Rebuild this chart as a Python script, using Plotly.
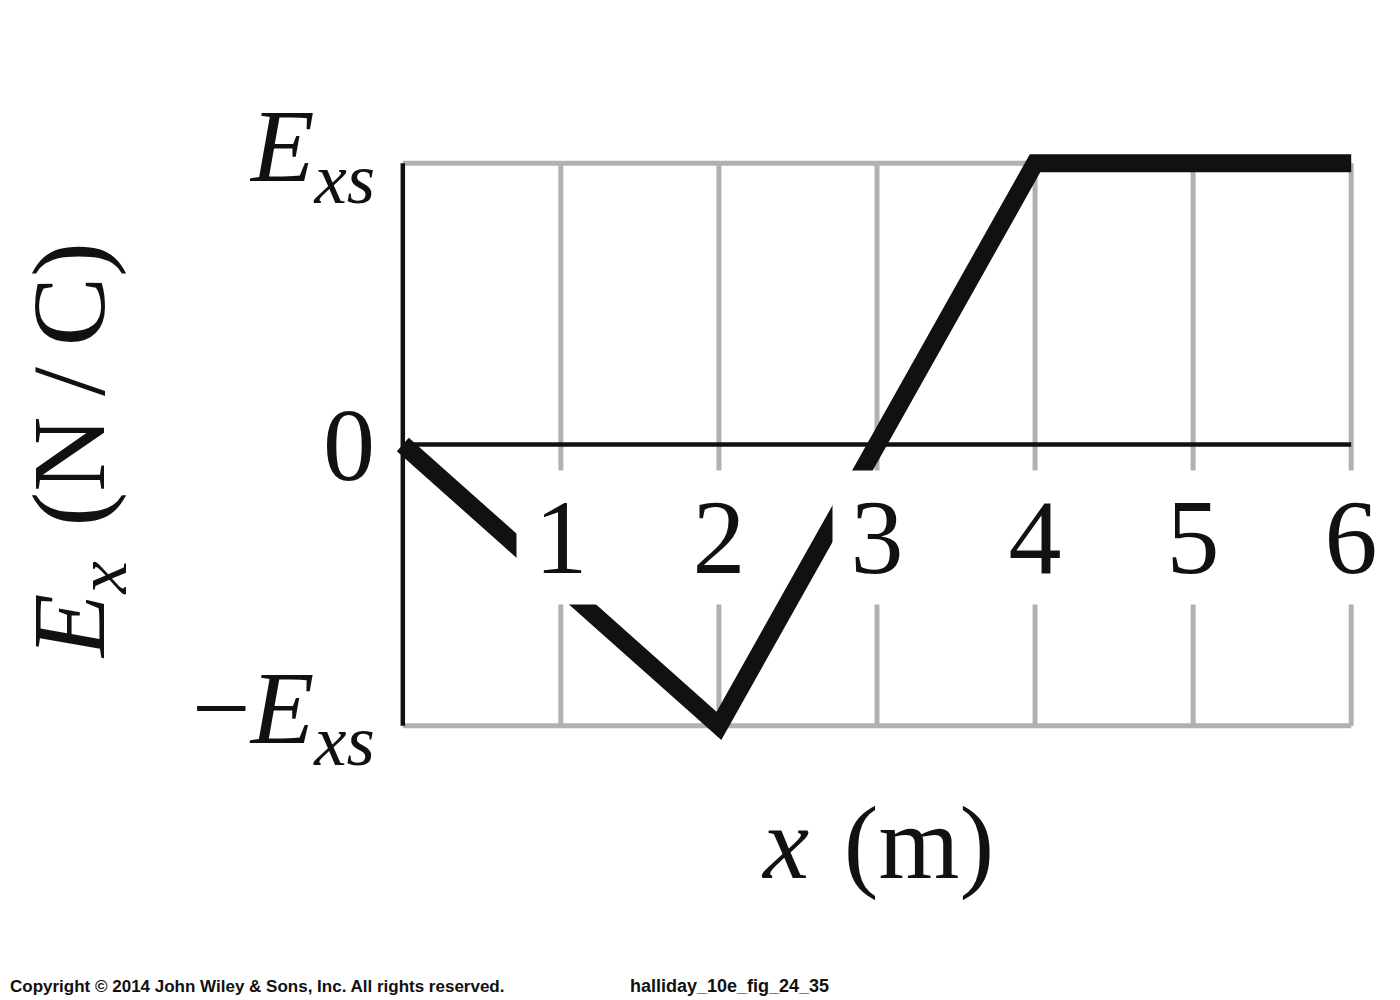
import plotly.graph_objects as go

# ---- data ----
x_pts = [0, 2, 4, 6]            # x (m)
ex_pts = [0, -1, 1, 1]          # Ex in units of E_xs
x_ticks = [1, 2, 3, 4, 5, 6]
x_tick_text = ["1", "2", "3", "4", "5", "6"]
y_ticks = [-1, 0, 1]
y_tick_text = ["−<i>E</i><sub><i>xs</i></sub>", "0", "<i>E</i><sub><i>xs</i></sub>"]

SERIF = "Liberation Serif, Times New Roman, serif"
SANS = "Liberation Sans Narrow, Liberation Sans, Arial, sans-serif"
GRID = "#b1b1b5"
INK = "#111111"

fig = go.Figure()

fig.add_trace(go.Scatter(
    x=x_pts, y=ex_pts, mode="lines",
    line=dict(color=INK, width=18),
    hoverinfo="skip", showlegend=False,
))

shapes = []
xmin, xmax = 0, x_ticks[-1]
ymin, ymax = y_ticks[0], y_ticks[-1]
# vertical grid lines
for v in x_ticks:
    shapes.append(dict(type="line", xref="x", yref="y", x0=v, x1=v, y0=ymin, y1=ymax,
                       line=dict(color=GRID, width=5), layer="below"))
# top / bottom grid lines
for v in (ymin, ymax):
    shapes.append(dict(type="line", xref="x", yref="y", x0=xmin, x1=xmax, y0=v, y1=v,
                       line=dict(color=GRID, width=5), layer="below"))
# axis lines
shapes.append(dict(type="line", xref="x", yref="y", x0=xmin, x1=xmin, y0=ymin, y1=ymax,
                   line=dict(color=INK, width=4.5), layer="below"))
shapes.append(dict(type="line", xref="x", yref="y", x0=xmin, x1=xmax, y0=0, y1=0,
                   line=dict(color=INK, width=4.5), layer="below"))

annotations = []
# x tick labels with white masks
for v, t in zip(x_ticks, x_tick_text):
    annotations.append(dict(
        x=v, y=0, xref="x", yref="y", text=t, showarrow=False,
        xanchor="center", yanchor="top", yshift=-25,
        width=88, height=133, bgcolor="white", borderpad=0,
        font=dict(family=SERIF, size=106, color=INK),
    ))
# y tick labels
for v, t in zip(y_ticks, y_tick_text):
    annotations.append(dict(
        x=0, y=v, xref="x", yref="y", text=t, showarrow=False,
        xanchor="right", yanchor="middle", xshift=-26,
        yshift=(10 if "<sub>" in t else 0),
        font=dict(family=SERIF, size=104, color=INK),
    ))
# axis titles
annotations.append(dict(
    x=0.5, y=-0.144, xref="paper", yref="paper", text="<i>x</i> \u200a(m)", showarrow=False,
    xanchor="center", yanchor="middle",
    font=dict(family=SERIF, size=104, color=INK),
))
annotations.append(dict(
    x=-0.3174, y=0.491, xref="paper", yref="paper",
    text="<i>E</i><sub><i>x</i></sub> \u200a(N\u2009/\u2009C)",
    showarrow=False, textangle=-90, xanchor="center", yanchor="middle",
    font=dict(family=SERIF, size=104, color=INK),
))
# footer
annotations.append(dict(
    x=-0.3867, y=-0.3748, xref="paper", yref="paper", showarrow=False,
    text="<b>Copyright © 2014 John Wiley & Sons, Inc. All rights reserved.</b>",
    xanchor="left", yanchor="middle",
    font=dict(family=SANS, size=17, color=INK),
))
annotations.append(dict(
    x=0.246, y=-0.3748, xref="paper", yref="paper", showarrow=False,
    text="<b>halliday_10e_fig_24_35</b>",
    xanchor="left", yanchor="middle",
    font=dict(family=SANS, size=18, color=INK),
))

fig.update_layout(
    width=1392, height=992,
    margin=dict(l=379, r=33, t=127, b=246),
    paper_bgcolor="white", plot_bgcolor="white",
    xaxis=dict(range=[-0.1, 6.1], visible=False, fixedrange=True),
    yaxis=dict(range=[-1.1, 1.1], visible=False, fixedrange=True),
    shapes=shapes, annotations=annotations,
    showlegend=False,
)

fig.write_html("out.html")
